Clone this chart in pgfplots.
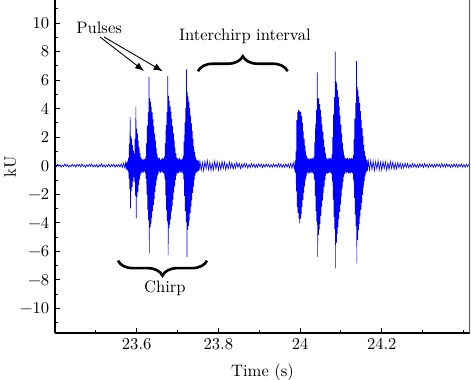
\documentclass[border=0pt]{standalone}
\usepackage{fontspec}
\setmainfont{lmroman10-regular.otf}
\usepackage{pgfplots}
\pgfplotsset{compat=1.18}
\usetikzlibrary{decorations.pathreplacing,arrows.meta}
\definecolor{wave}{RGB}{0,0,255}
\newcommand{\bigfont}{\fontsize{16.6}{19}\selectfont}
\begin{document}
\bigfont
\begin{tikzpicture}
\useasboundingbox (0,0) rectangle (471pt,380pt);
\begin{axis}[
  at={(55pt,47pt)}, anchor=south west,
  scale only axis, width=415pt, height=333pt,
  xmin=23.4, xmax=24.416, ymin=-11.72, ymax=11.61,
  axis x line*=bottom, axis y line*=left,
  axis line style={line width=1.5pt, black},
  xtick={23.6,23.8,24,24.2},
  xticklabels={23.6,23.8,24,24.2},
  minor xtick={23.5,23.7,23.9,24.1,24.3,24.4},
  ytick={-10,-8,-6,-4,-2,0,2,4,6,8,10},
  yticklabels={−10,−8,−6,−4,−2,0,2,4,6,8,10},
  minor ytick={-11,-9,-7,-5,-3,-1,1,3,5,7,9,11},
  tick align=inside,
  major tick length=5pt, minor tick length=3pt,
  every tick/.style={black, line width=0.9pt},
  tick label style={font=\bigfont},
  label style={font=\bigfont},
  xlabel={Time (s)},
  ylabel={kU},
  every axis x label/.style={at={(axis description cs:0.5,-0.117)}, anchor=center},
  every axis y label/.style={at={(axis description cs:-0.108,0.5)}, rotate=90, anchor=center},
  clip=true,
]
\addplot[wave, line width=0.65pt] table {
x y
23.400 0.05
23.403 -0.08
23.406 0.10
23.409 -0.04
23.412 0.07
23.415 -0.10
23.418 0.04
23.421 -0.06
23.424 0.12
23.427 -0.05
23.430 0.08
23.433 -0.09
23.436 0.03
23.439 -0.07
23.442 0.11
23.445 -0.04
23.448 0.06
23.451 -0.10
23.454 0.09
23.457 -0.03
23.460 0.07
23.463 -0.08
23.466 0.13
23.469 -0.05
23.472 0.04
23.475 -0.11
23.478 0.08
23.481 -0.06
23.484 0.10
23.487 -0.04
23.490 0.12
23.493 -0.09
23.496 0.05
23.499 -0.07
23.502 0.09
23.505 -0.12
23.508 0.06
23.511 -0.05
23.514 0.14
23.517 -0.08
23.520 0.07
23.523 -0.10
23.526 0.05
23.529 -0.06
23.532 0.11
23.535 -0.09
23.538 0.08
23.541 -0.04
23.544 0.10
23.547 -0.11
23.550 0.06
23.553 -0.07
23.556 0.09
23.559 -0.10
23.562 0.13
23.565 -0.12
23.568 0.18
23.571 -0.16
23.573 0.22
23.575 -0.25
23.576 0.25
23.577 -0.30
23.578 0.35
23.579 -0.40
23.580 0.55
23.581 -0.90
23.582 1.54
23.583 -1.64
23.584 3.43
23.585 -2.99
23.586 2.06
23.587 -1.80
23.588 1.90
23.589 -1.50
23.590 1.45
23.591 -1.10
23.592 1.05
23.593 -0.80
23.594 0.85
23.595 -1.15
23.596 1.90
23.597 -2.10
23.598 4.13
23.599 -3.69
23.600 2.60
23.601 -2.20
23.602 2.25
23.603 -1.85
23.604 1.75
23.605 -1.35
23.606 1.30
23.607 -0.95
23.608 0.88
23.609 -0.70
23.610 0.60
23.611 -0.50
23.612 0.50
23.613 -0.40
23.614 0.45
23.615 -0.50
23.616 0.40
23.617 -0.45
23.618 0.50
23.619 -0.40
23.620 0.45
23.621 -0.50
23.622 0.62
23.623 -0.92
23.624 1.56
23.625 -2.03
23.626 2.81
23.627 -3.07
23.628 3.74
23.629 -3.81
23.630 6.24
23.631 -6.14
23.632 4.74
23.633 -4.30
23.634 4.49
23.635 -4.05
23.636 4.12
23.637 -3.68
23.638 3.74
23.639 -3.19
23.640 3.24
23.641 -2.76
23.642 2.75
23.643 -2.33
23.644 2.25
23.645 -1.84
23.646 1.75
23.647 -1.41
23.648 1.25
23.649 -0.98
23.650 0.87
23.651 -0.68
23.652 0.56
23.653 -0.55
23.654 0.50
23.655 -0.40
23.656 0.55
23.657 -0.45
23.658 0.40
23.659 -0.50
23.660 0.45
23.661 -0.40
23.662 0.50
23.663 -0.45
23.664 0.55
23.665 -0.50
23.666 0.50
23.667 -0.55
23.668 0.63
23.669 -0.94
23.670 1.58
23.671 -2.07
23.672 2.84
23.673 -3.13
23.674 3.78
23.675 -3.88
23.676 6.30
23.677 -6.26
23.678 4.90
23.679 -4.38
23.680 4.54
23.681 -4.13
23.682 4.16
23.683 -3.76
23.684 3.78
23.685 -3.26
23.686 3.28
23.687 -2.82
23.688 2.77
23.689 -2.38
23.690 2.27
23.691 -1.88
23.692 1.76
23.693 -1.44
23.694 1.26
23.695 -1.00
23.696 0.88
23.697 -0.69
23.698 0.57
23.699 -0.50
23.700 0.50
23.701 -0.55
23.702 0.45
23.703 -0.50
23.704 0.55
23.705 -0.40
23.706 0.50
23.707 -0.45
23.708 0.40
23.709 -0.50
23.710 0.45
23.711 -0.40
23.712 0.50
23.713 -0.55
23.714 0.68
23.715 -0.96
23.716 1.69
23.717 -2.11
23.718 3.04
23.719 -3.19
23.720 4.05
23.721 -3.96
23.722 6.75
23.723 -6.38
23.724 5.13
23.725 -4.47
23.726 4.86
23.727 -4.21
23.728 4.46
23.729 -3.83
23.730 4.05
23.731 -3.32
23.732 3.51
23.733 -2.87
23.734 2.97
23.735 -2.42
23.736 2.43
23.737 -1.91
23.738 1.89
23.739 -1.47
23.740 1.35
23.741 -1.02
23.742 0.95
23.743 -0.70
23.744 0.61
23.745 -0.51
23.746 0.45
23.747 -0.45
23.748 0.40
23.749 -0.40
23.750 0.35
23.751 -0.38
23.752 0.35
23.753 -0.30
23.755 0.28
23.758 -0.32
23.761 0.22
23.764 -0.35
23.767 0.30
23.770 -0.20
23.773 0.35
23.776 -0.28
23.779 0.25
23.782 -0.33
23.785 0.18
23.788 -0.30
23.791 0.32
23.794 -0.22
23.797 0.27
23.800 -0.30
23.803 0.20
23.806 -0.26
23.809 0.30
23.812 -0.18
23.815 0.24
23.818 -0.28
23.821 0.15
23.824 -0.22
23.827 0.26
23.830 -0.16
23.833 0.20
23.836 -0.24
23.839 0.14
23.842 -0.18
23.845 0.22
23.848 -0.12
23.851 0.16
23.854 -0.20
23.857 0.12
23.860 -0.15
23.863 0.18
23.866 -0.10
23.869 0.14
23.872 -0.16
23.875 0.10
23.878 -0.13
23.881 0.15
23.884 -0.09
23.887 0.12
23.890 -0.14
23.893 0.08
23.896 -0.12
23.899 0.14
23.902 -0.08
23.905 0.11
23.908 -0.13
23.911 0.09
23.914 -0.10
23.917 0.13
23.920 -0.07
23.923 0.10
23.926 -0.12
23.929 0.08
23.932 -0.10
23.935 0.12
23.938 -0.08
23.941 0.10
23.944 -0.11
23.947 0.15
23.950 -0.09
23.953 0.12
23.956 -0.13
23.959 0.09
23.962 -0.11
23.965 0.14
23.968 -0.10
23.971 0.12
23.974 -0.14
23.977 0.16
23.980 -0.18
23.983 0.22
23.986 -0.25
23.988 0.35
23.989 -0.50
23.990 1.00
23.991 -1.80
23.992 3.20
23.993 -2.90
23.994 3.75
23.995 -3.30
23.996 3.90
23.997 -3.70
23.998 3.85
23.999 -4.04
24.000 3.80
24.001 -3.70
24.002 3.75
24.003 -3.40
24.004 3.50
24.005 -2.90
24.006 3.00
24.007 -2.40
24.008 2.40
24.009 -1.90
24.010 1.90
24.011 -1.45
24.012 1.40
24.013 -1.05
24.014 1.00
24.015 -0.75
24.016 0.70
24.017 -0.55
24.018 0.55
24.019 -0.45
24.020 0.50
24.021 -0.55
24.022 0.45
24.023 -0.50
24.024 0.55
24.025 -0.45
24.026 0.50
24.027 -0.55
24.028 0.50
24.029 -0.45
24.030 0.55
24.031 -0.50
24.032 0.50
24.033 -0.55
24.034 0.65
24.035 -0.96
24.036 1.64
24.037 -2.11
24.038 2.94
24.039 -3.19
24.040 3.92
24.041 -3.96
24.042 6.54
24.043 -6.38
24.044 4.71
24.045 -4.85
24.046 4.71
24.047 -4.47
24.048 4.32
24.049 -4.08
24.050 3.92
24.051 -3.51
24.052 3.40
24.053 -2.87
24.054 2.88
24.055 -2.42
24.056 2.35
24.057 -1.91
24.058 1.83
24.059 -1.47
24.060 1.31
24.061 -1.02
24.062 0.92
24.063 -0.70
24.064 0.59
24.065 -0.51
24.066 0.50
24.067 -0.55
24.068 0.45
24.069 -0.50
24.070 0.55
24.071 -0.50
24.072 0.50
24.073 -0.45
24.074 0.55
24.075 -0.50
24.076 0.50
24.077 -0.55
24.078 0.80
24.079 -1.08
24.080 2.00
24.081 -2.37
24.082 3.60
24.083 -3.60
24.084 4.80
24.085 -4.46
24.086 8.00
24.087 -7.19
24.088 5.92
24.089 -5.39
24.090 5.76
24.091 -4.75
24.092 5.28
24.093 -4.31
24.094 4.80
24.095 -3.74
24.096 4.16
24.097 -3.24
24.098 3.52
24.099 -2.73
24.100 2.88
24.101 -2.16
24.102 2.24
24.103 -1.65
24.104 1.60
24.105 -1.15
24.106 1.12
24.107 -0.79
24.108 0.72
24.109 -0.58
24.110 0.55
24.111 -0.45
24.112 0.50
24.113 -0.55
24.114 0.50
24.115 -0.45
24.116 0.55
24.117 -0.50
24.118 0.45
24.119 -0.50
24.120 0.55
24.121 -0.50
24.122 0.50
24.123 -0.55
24.124 0.50
24.125 -0.45
24.126 0.55
24.127 -0.50
24.128 0.50
24.129 -0.55
24.130 0.73
24.131 -1.03
24.132 1.84
24.133 -2.26
24.134 3.30
24.135 -3.42
24.136 4.40
24.137 -4.24
24.138 7.34
24.139 -6.84
24.140 5.50
24.141 -5.20
24.142 5.28
24.143 -4.51
24.144 4.84
24.145 -4.10
24.146 4.40
24.147 -3.56
24.148 3.82
24.149 -3.08
24.150 3.23
24.151 -2.60
24.152 2.64
24.153 -2.05
24.154 2.06
24.155 -1.57
24.156 1.47
24.157 -1.09
24.158 1.03
24.159 -0.75
24.160 0.66
24.161 -0.55
24.162 0.45
24.163 -0.42
24.164 0.40
24.165 -0.35
24.167 0.32
24.170 -0.30
24.173 0.36
24.176 -0.25
24.179 0.30
24.182 -0.34
24.185 0.28
24.188 -0.22
24.191 0.35
24.194 -0.30
24.197 0.25
24.200 -0.32
24.203 0.30
24.206 -0.20
24.209 0.28
24.212 -0.30
24.215 0.22
24.218 -0.26
24.221 0.30
24.224 -0.18
24.227 0.24
24.230 -0.25
24.233 0.18
24.236 -0.22
24.239 0.20
24.242 -0.15
24.245 0.18
24.248 -0.20
24.251 0.14
24.254 -0.16
24.257 0.18
24.260 -0.12
24.263 0.15
24.266 -0.14
24.269 0.10
24.272 -0.13
24.275 0.15
24.278 -0.10
24.281 0.12
24.284 -0.14
24.287 0.09
24.290 -0.12
24.293 0.14
24.296 -0.08
24.299 0.11
24.302 -0.12
24.305 0.16
24.308 -0.09
24.311 0.10
24.314 -0.13
24.317 0.12
24.320 -0.08
24.323 0.11
24.326 -0.12
24.329 0.09
24.332 -0.10
24.335 0.13
24.338 -0.07
24.341 0.10
24.344 -0.12
24.347 0.15
24.350 -0.09
24.353 0.11
24.356 -0.10
24.359 0.14
24.362 -0.08
24.365 0.10
24.368 -0.12
24.371 0.09
24.374 -0.10
24.377 0.13
24.380 -0.08
24.383 0.11
24.386 -0.12
24.389 0.09
24.392 -0.07
24.395 0.12
24.398 -0.10
24.401 0.08
24.404 -0.11
24.407 0.10
24.410 -0.08
24.413 0.09
24.416 -0.06
};
% annotations
\node[font=\bigfont, inner sep=0pt] at (axis cs:23.508,9.65) {Pulses};
\draw[line width=0.9pt, -{Latex[length=9pt,width=7pt]}] (axis cs:23.510,9.02) -- (axis cs:23.6179,6.64);
\draw[line width=0.9pt, -{Latex[length=9pt,width=7pt]}] (axis cs:23.520,9.02) -- (axis cs:23.6636,6.62);
\node[font=\bigfont, inner sep=0pt] at (axis cs:23.865,9.09) {Interchirp interval};
\draw[line width=2.6pt, decorate, decoration={brace, amplitude=15pt}] (axis cs:23.750,6.62) -- (axis cs:23.9696,6.62);
\draw[line width=2.6pt, decorate, decoration={brace, amplitude=15pt, mirror}] (axis cs:23.5542,-6.65) -- (axis cs:23.7721,-6.65);
\node[font=\bigfont, inner sep=0pt] at (axis cs:23.669,-8.57) {Chirp};
\draw[black!65, line width=1.6pt] (axis cs:24.416,-11.72) -- (axis cs:24.416,11.61);
\end{axis}
\end{tikzpicture}
\end{document}
